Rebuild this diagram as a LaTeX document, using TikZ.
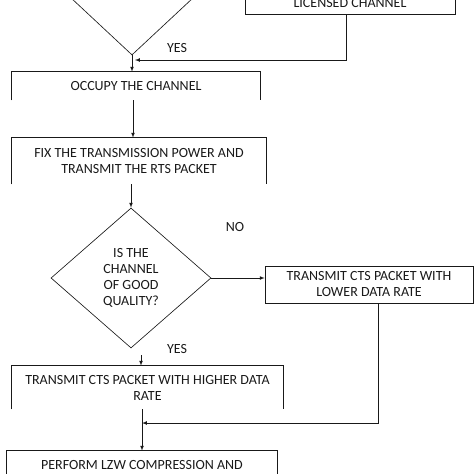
\documentclass[tikz,border=0pt]{standalone}
\usepackage{fontspec}
\setmainfont{Carlito}
\usetikzlibrary{positioning,shapes.geometric}
\newcommand{\openbox}[1]{\draw (#1.south west) -- (#1.north west) -- (#1.north east) -- (#1.south east);}

\begin{document}
\begin{tikzpicture}[x=1pt,y=-1pt,line width=0.65pt,>=latex,color=black!90,
  box/.style={inner sep=0pt,align=center,font=\fontsize{14}{16}\selectfont},
  decision/.style={diamond,draw,inner sep=0pt,align=center,font=\fontsize{14}{16}\selectfont},
  lbl/.style={font=\fontsize{14}{16}\selectfont}]
\path[use as bounding box,clip] (0,0) rectangle (474,474);
%% the decisions
\node [decision,minimum width=150pt,minimum height=140pt] (freeCheck) at (132,-15) {};
\node [decision,minimum width=160pt,minimum height=140pt] (qualityCheck) at (131,278) {IS THE\\CHANNEL\\OF GOOD\\QUALITY?};
%the boxes
\node [box,draw,minimum width=210pt,minimum height=22pt] (licensed) at (350,3.5) {LICENSED CHANNEL};
\node [box,minimum width=248pt,minimum height=28pt] (occupy) at (136,86) {OCCUPY THE CHANNEL};
\node [box,minimum width=254pt,minimum height=46pt] (fixPower) at (139,161) {FIX THE TRANSMISSION POWER AND\\TRANSMIT THE RTS PACKET};
\node [box,draw,minimum width=208pt,minimum height=37pt] (lowerRate) at (369,284.5) {TRANSMIT CTS PACKET WITH\\LOWER DATA RATE};
\node [box,minimum width=271pt,minimum height=43pt] (higherRate) at (147.5,387.5) {TRANSMIT CTS PACKET WITH HIGHER DATA\\RATE};
\node [box,minimum width=270pt,minimum height=44pt] (lzw) at (142,473) {PERFORM LZW COMPRESSION AND\\AGGREGATION};
\openbox{occupy}
\openbox{fixPower}
\openbox{higherRate}
\openbox{lzw}
%labels
\node [lbl] (yesTop) at (177,48) {YES};
\node [lbl] (noLabel) at (235,227) {NO};
\node [lbl] (yesLow) at (177,349) {YES};
\coordinate (joinTop) at (135,60);
\coordinate (joinLow) at (142,423);
%drawings of lines
\draw[->] (freeCheck.south) -- (freeCheck.south |- occupy.north);
\draw[->] ([xshift=-4pt]licensed.south) |- (joinTop);
\draw[->] ([xshift=-3pt]occupy.south) -- ([xshift=-3pt]occupy.south |- fixPower.north);
\draw[->] (fixPower.south -| qualityCheck.north) -- (qualityCheck.north);
\draw[->] (qualityCheck.east) -- (qualityCheck.east -| lowerRate.west);
\draw[->] (qualityCheck.south) ++(10pt,-7pt) coordinate (yesStart) -- (yesStart |- higherRate.north);
\draw[->] (higherRate.south -| lzw.north) -- (lzw.north);
\draw[->] ([xshift=9pt]lowerRate.south) |- (joinLow);
\end{tikzpicture}
\end{document}
